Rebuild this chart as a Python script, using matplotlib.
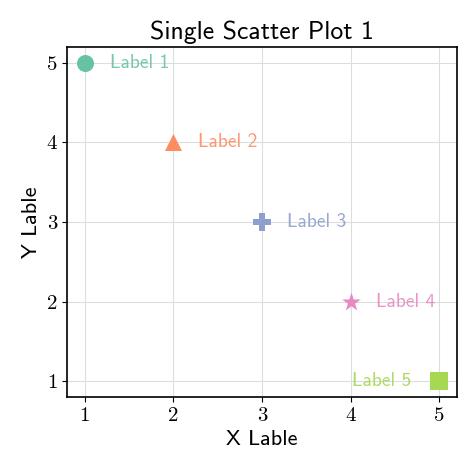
import matplotlib
matplotlib.use("Agg")
import matplotlib.pyplot as plt

x_vals = [1, 2, 3, 4, 5]
y_vals = [5, 4, 3, 2, 1]
labels = ["Label 1", "Label 2", "Label 3", "Label 4", "Label 5"]
markers = ["o", "^", "P", "*", "s"]
colors = ["#66c2a5", "#fc8d62", "#8da0cb", "#e78ac3", "#a6d854"]
ticks = [1, 2, 3, 4, 5]

fig, ax = plt.subplots(figsize=(4.74, 4.74), dpi=100)
fig.subplots_adjust(left=0.141, right=0.964, top=0.901, bottom=0.162)

for x, y, lab, m, c in zip(x_vals, y_vals, labels, markers, colors):
    size = 200 if m == "*" else 150
    ax.scatter(x, y, marker=m, s=size, color=c, alpha=1.0, zorder=3, linewidths=0)
    if x == max(x_vals):
        ax.annotate(lab, (x, y), xytext=(-20, 0), textcoords="offset points",
                    ha="right", va="center", color=c, alpha=0.9, fontsize=14, family="cmss10")
    else:
        ax.annotate(lab, (x, y), xytext=(18, 0), textcoords="offset points",
                    ha="left", va="center", color=c, alpha=0.9, fontsize=14, family="cmss10")

ax.set_xlim(0.8, 5.2)
ax.set_ylim(0.8, 5.2)
ax.set_xticks(ticks)
ax.set_yticks(ticks)
ax.set_xticklabels([str(t) for t in ticks], family="cmr10", fontsize=15)
ax.set_yticklabels([str(t) for t in ticks], family="cmr10", fontsize=15)
ax.grid(True, color="#dddddd", linewidth=0.8, zorder=0)
ax.set_axisbelow(True)
ax.set_title("Single Scatter Plot 1", family="cmss10", fontsize=18.5)
ax.set_xlabel("X Lable", family="cmss10", fontsize=16)
ax.set_ylabel("Y Lable", family="cmss10", fontsize=16)
for s in ax.spines.values():
    s.set_linewidth(1.2)

fig.savefig("out.png", dpi=100)
